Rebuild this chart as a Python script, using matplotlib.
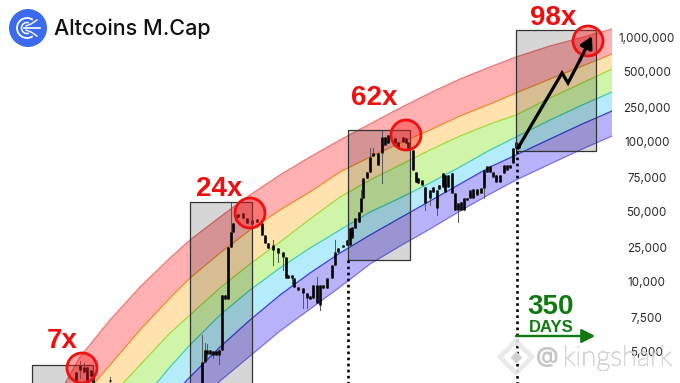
import matplotlib
matplotlib.use('Agg')
import matplotlib.pyplot as plt
import matplotlib.patheffects as pe
from matplotlib.patches import Circle, Rectangle, Arc
import numpy as np

# y is in chart levels: 35 levels between two neighbouring tick labels, 0 is the 5,000 line
tick_levels = [0, 35, 70, 105, 140, 175, 210, 245, 280, 315]
tick_labels = ['5,000', '7,500', '10,000', '25,000', '50,000',
               '75,000', '100,000', '250,000', '500,000', '1,000,000']

band_time = [50, 80, 110, 140, 170, 190, 220, 250, 280, 310, 340, 370, 400, 430, 460, 490, 516, 550, 580, 612]
band_top = [-58, -5, 32, 65, 94, 112, 135, 157, 177, 195, 212, 228, 244, 259, 273, 285, 295, 306, 314, 323]
band_orange = [-88, -48, -13, 22, 54, 74, 99, 122, 142, 160, 180, 195, 209, 222, 236, 248, 259, 273, 285, 298]
band_green = [-108, -78, -45, -13, 19, 37, 64, 88, 110, 133, 155, 172, 187, 202, 216, 228, 237, 254, 268, 283]
band_cyan = [-158, -123, -88, -51, -15, 7, 37, 62, 84, 104, 122, 140, 154, 169, 185, 202, 215, 232, 246, 260]
band_blue = [-188, -153, -118, -81, -46, -25, 5, 32, 57, 79, 99, 117, 134, 151, 168, 185, 197, 213, 227, 241]
band_bottom = [-228, -193, -158, -123, -83, -58, -29, -4, 21, 43, 65, 88, 106, 123, 141, 158, 172, 188, 202, 216]

candle_time = [76, 80, 84, 87, 91, 93, 110,
               202, 205, 207, 210, 213, 216, 219, 222, 225, 228, 231, 233, 236, 238, 243, 247, 252, 257,
               262, 265, 268, 273, 278, 283, 286, 288, 292, 294, 298, 303, 307, 310, 313, 317, 320, 323,
               327, 332, 335, 338, 343, 347, 350, 352, 355, 359, 361, 363, 367, 370, 373, 378, 382, 385,
               388, 395, 398, 403, 406, 408, 413, 416, 418, 422, 425, 430, 433, 437, 439, 443, 445, 448,
               452, 455, 458, 461, 464, 467, 470, 473, 477, 481, 484, 487, 490, 493, 496, 500, 504, 507,
               510, 513, 516, 519]
body_high = [-20, -13, -15, -15, -18, -21, -28,
             -10, 2, 2, 2, 1, 1, 2, 57, 57, 105, 120, 129, 137, 138, 139, 134, 132, 133,
             129, 117, 109, 107, 104, 100, 95, 77, 77, 74, 65, 64, 59, 56, 67, 67, 67, 67,
             74, 87, 100, 104, 107, 112, 124, 125, 134, 140, 154, 174, 180, 195, 199, 199, 215, 215,
             217, 214, 210, 215, 214, 210, 202, 180, 174, 172, 165, 162, 165, 162, 167, 179, 177, 177,
             179, 159, 149, 150, 154, 154, 162, 163, 163, 164, 182, 186, 186, 180, 177, 177, 187, 187,
             187, 204, 210, 209]
body_low = [-30, -18, -20, -31, -24, -38, -29,
            -38, -10, -2, -2, -3, -3, -3, 2, 53, 53, 105, 120, 132, 135, 134, 129, 128, 130,
            117, 109, 104, 102, 99, 95, 74, 74, 74, 65, 62, 59, 54, 53, 54, 49, 47, 64,
            64, 74, 87, 100, 105, 107, 107, 114, 124, 130, 140, 154, 174, 180, 196, 187, 199, 207,
            209, 209, 205, 210, 209, 204, 182, 170, 169, 167, 149, 154, 160, 144, 163, 165, 160, 165,
            159, 142, 142, 142, 142, 152, 154, 154, 157, 159, 164, 180, 180, 175, 170, 170, 179, 182,
            184, 189, 204, 204]
wick_high = {110: -25, 202: 17, 205: 9, 207: 8, 80: -9, 84: -11, 231: 150, 273: 112, 317: 75, 335: 112,
             361: 162, 370: 204, 373: 204, 382: 222}
wick_low = {80: -26, 110: -33, 213: -6, 207: -6, 219: -12, 273: 87, 278: 90, 283: 82, 292: 68, 303: 44, 307: 44,
            320: 42, 382: 169, 425: 142, 430: 147, 437: 137, 458: 130, 484: 154}

# (start, end, lowest level, highest level) of the grey boxes
box_spans = [(32, 93, -40, -13), (190, 252, -40, 150), (348, 410, 92, 222), (516, 596, 201, 322)]
# (time, level) of the circled tops
top_times = [82, 250, 406, 588]
top_levels = [-16, 139, 217, 311]
gain_labels = ['7x', '24x', '62x', '98x']
gain_times = [62, 219, 374, 553]
gain_levels = [11, 163, 254, 334]

path_times = [518, 562, 568, 580]
path_levels = [204, 279, 269, 292]

fig = plt.figure(figsize=(6.8, 3.83), dpi=100)
ax = fig.add_axes([0, 0, 612 / 680, 1])
ax.set_xlim(0, 612)
ax.set_ylim(-31, 352)

layers = [(band_top, band_orange, '#ffb0b0', '#ee7777'),
          (band_orange, band_green, '#ffe2ae', '#f08a2a'),
          (band_green, band_cyan, '#cff5a8', '#a4d838'),
          (band_cyan, band_blue, '#b4ecfb', '#44cdb0'),
          (band_blue, band_bottom, '#b8b2fb', '#3a40e0')]
for upper, lower, fill, edge in layers:
    ax.fill_between(band_time, lower, upper, color=fill, lw=0, zorder=1)
    ax.plot(band_time, upper, color=edge, lw=0.9, zorder=2)
ax.plot(band_time, band_bottom, color='#7a70ea', lw=0.9, zorder=2)

for start, end, low, high in box_spans:
    ax.add_patch(Rectangle((start, low), end - start, high - low, facecolor='black',
                           alpha=0.16, lw=0, zorder=3))
    ax.add_patch(Rectangle((start, low), end - start, high - low, fill=False,
                           edgecolor='#333333', lw=0.9, zorder=5))

ax.plot([348, 348], [92, -31], color='black', lw=1.9, ls=(0, (1, 1.3)), zorder=6)
ax.plot([517, 517], [201, -31], color='black', lw=1.9, ls=(0, (1, 1.3)), zorder=6)

for i, t in enumerate(candle_time):
    high = wick_high.get(t, body_high[i])
    low = wick_low.get(t, body_low[i])
    ax.plot([t, t], [low, high], color='#555555', lw=0.7, zorder=4)
    ax.plot([t, t], [body_low[i], body_high[i]], color='black', lw=1.9,
            solid_capstyle='butt', zorder=4)

for t, level in zip(top_times, top_levels):
    ax.add_patch(Circle((t, level), 15, facecolor='#ff1a1a', alpha=0.4, lw=0, zorder=7))
    ax.add_patch(Circle((t, level), 15, fill=False, edgecolor='#ee1111', lw=2.0, zorder=7))

for label, t, level in zip(gain_labels, gain_times, gain_levels):
    ax.text(t, level, label, color='#ee0f0f', fontsize=20, fontweight='bold',
            family='Liberation Sans', ha='center', va='center', zorder=8)

ax.plot(path_times, path_levels, color='black', lw=2.3, solid_joinstyle='miter', zorder=8)
ax.annotate('', xy=(592, 316), xytext=(path_times[-1], path_levels[-1]), zorder=8,
            arrowprops=dict(arrowstyle='-|>,head_width=0.38,head_length=0.7', color='black', lw=2.3,
                            shrinkA=0, shrinkB=0))

ax.annotate('', xy=(595, 16), xytext=(516, 16), zorder=8,
            arrowprops=dict(arrowstyle='-|>,head_width=0.42,head_length=0.8', color='#0f7a10', lw=1.7,
                            shrinkA=0, shrinkB=0))
ax.text(551, 45, '350', color='#0f7a10', fontsize=20, fontweight='bold', family='Liberation Sans',
        ha='center', va='center', zorder=8)
ax.text(551, 25, 'DAYS', color='#0f7a10', fontsize=12, fontweight='bold', family='Liberation Sans',
        ha='center', va='center', zorder=8)

# header logo and name
ax.add_patch(Circle((28, 324), 19, facecolor='#3d6bf0', lw=0, zorder=8))
ax.add_patch(Arc((27, 324), 20, 20, theta1=55, theta2=305, edgecolor='white', lw=1.3, zorder=9))
ax.add_patch(Arc((27, 324), 11, 11, theta1=70, theta2=290, edgecolor='white', lw=1.1, zorder=9))
ax.plot([24, 40], [324, 324], color='white', lw=1.2, zorder=9)
ax.plot([26, 31, 37], [326, 328, 332], color='white', lw=1.0, zorder=9)
ax.plot([26, 31, 37], [322, 320, 316], color='white', lw=1.0, zorder=9)
ax.text(54, 323, 'Altcoins M.Cap', fontsize=15.5, fontweight='medium', family='Inter',
        color='#111111', ha='left', va='center', zorder=9)

ax.set_xticks([])
ax.yaxis.tick_right()
ax.set_yticks(tick_levels, tick_labels, fontsize=8.4, family='Inter', color='#2a2a2a', ha='center')
ax.tick_params(axis='y', length=0, pad=25)
for side in ax.spines.values():
    side.set_visible(False)

# watermark over the lower right corner
ax.plot([516, 532, 516, 500, 516], [11, -5, -21, -5, 11], color='#e8e8e8', lw=3.5, alpha=0.9, zorder=10)
ax.plot([516], [-5], marker='D', ms=5, color='#d0d0d0', zorder=10)
ax.text(547, -5, '@', fontsize=16, color='#c4c4c4', fontweight='bold', ha='center', va='center',
        family='Inter', zorder=10)
ax.text(563, -6, 'kingshark', fontsize=20, color='white', alpha=0.85, ha='left', va='center',
        family='Lato', fontweight='light', clip_on=False, zorder=10,
        path_effects=[pe.withStroke(linewidth=0.6, foreground='#bcbcbc')])

fig.savefig('out.png', dpi=100)
